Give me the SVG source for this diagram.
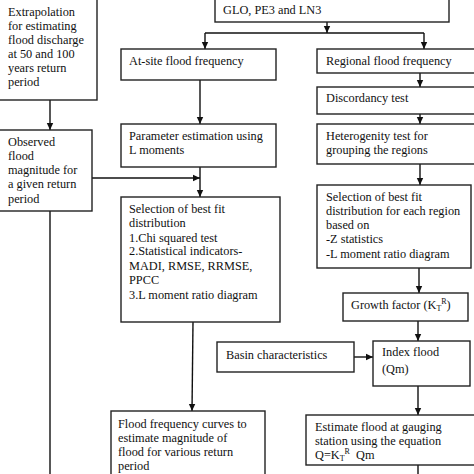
<svg xmlns="http://www.w3.org/2000/svg" width="474" height="474" viewBox="0 0 474 474">
<defs>
<marker id="ah" markerWidth="8" markerHeight="8" refX="7" refY="4" orient="auto" markerUnits="userSpaceOnUse">
<path d="M0,0.8 L7,4 L0,7.2 Z" fill="#111"/>
</marker>
<style>
.b{fill:#fff;stroke:#222;stroke-width:1.4}
.t{font-family:"Liberation Serif","Times New Roman",serif;font-size:12.3px;fill:#111}
.c{fill:none;stroke:#111;stroke-width:1.4}
.a{fill:none;stroke:#111;stroke-width:1.4;marker-end:url(#ah)}
.s{font-size:8px}
</style>
</defs>
<rect width="474" height="474" fill="#fff"/>

<g id="connectors">
<line class="a" x1="327" y1="22" x2="327" y2="33"/>
<line class="c" x1="205" y1="33" x2="424" y2="33"/>
<line class="a" x1="205" y1="33" x2="205" y2="49"/>
<line class="a" x1="424" y1="33" x2="424" y2="49"/>
<line class="a" x1="50" y1="100" x2="50" y2="130"/>
<line class="a" x1="200" y1="80" x2="200" y2="124"/>
<line class="a" x1="200" y1="167" x2="200" y2="197"/>
<line class="a" x1="92" y1="178" x2="200" y2="178"/>
<line class="c" x1="50" y1="211" x2="50" y2="474"/>
<line class="a" x1="193" y1="322" x2="192" y2="411"/>
<line class="a" x1="420" y1="73" x2="420" y2="87"/>
<line class="a" x1="420" y1="114" x2="420" y2="124"/>
<line class="a" x1="420" y1="164" x2="420" y2="185"/>
<line class="a" x1="419" y1="268" x2="419" y2="293"/>
<line class="a" x1="418" y1="321" x2="418" y2="341"/>
<line class="a" x1="354" y1="357" x2="373" y2="357"/>
<line class="a" x1="418" y1="386" x2="418" y2="415"/>
<line class="c" x1="418" y1="465" x2="418" y2="474"/>
</g>

<g id="dist">
<rect class="b" x="215" y="-10" width="234" height="32"/>
<text class="t" x="223" y="14">GLO, PE3 and LN3</text>
</g>

<g id="extrapolation">
<rect class="b" x="-5" y="-10" width="102" height="110"/>
<text class="t" x="8" y="16">Extrapolation</text>
<text class="t" x="8" y="30">for estimating</text>
<text class="t" x="8" y="44">flood discharge</text>
<text class="t" x="8" y="58">at 50 and 100</text>
<text class="t" x="8" y="72">years return</text>
<text class="t" x="8" y="86">period</text>
</g>

<g id="observed">
<rect class="b" x="-5" y="130" width="97" height="81"/>
<text class="t" x="8" y="146">Observed</text>
<text class="t" x="8" y="160">flood</text>
<text class="t" x="8" y="174">magnitude for</text>
<text class="t" x="8" y="188">a given return</text>
<text class="t" x="8" y="203">period</text>
</g>

<g id="atsite">
<rect class="b" x="121" y="49" width="155" height="31"/>
<text class="t" x="129" y="65">At-site flood frequency</text>
</g>

<g id="parameter">
<rect class="b" x="121" y="124" width="155" height="43"/>
<text class="t" x="129" y="140">Parameter estimation using</text>
<text class="t" x="129" y="154">L moments</text>
</g>

<g id="selection-atsite">
<rect class="b" x="121" y="197" width="159" height="125"/>
<text class="t" x="129" y="213">Selection of best fit</text>
<text class="t" x="129" y="227">distribution</text>
<text class="t" x="129" y="242">1.Chi squared test</text>
<text class="t" x="129" y="255">2.Statistical indicators-</text>
<text class="t" x="129" y="270">MADI, RMSE, RRMSE,</text>
<text class="t" x="129" y="284">PPCC</text>
<text class="t" x="129" y="299">3.L moment ratio diagram</text>
</g>

<g id="curves">
<rect class="b" x="111" y="411" width="154" height="70"/>
<text class="t" x="118" y="428">Flood frequency curves to</text>
<text class="t" x="118" y="442">estimate magnitude of</text>
<text class="t" x="118" y="456">flood for various return</text>
<text class="t" x="118" y="470">period</text>
</g>

<g id="regional">
<rect class="b" x="317" y="49" width="162" height="24"/>
<text class="t" x="326" y="65">Regional flood frequency</text>
</g>

<g id="discordancy">
<rect class="b" x="317" y="87" width="162" height="27"/>
<text class="t" x="326" y="102">Discordancy test</text>
</g>

<g id="heterogenity">
<rect class="b" x="317" y="124" width="162" height="40"/>
<text class="t" x="326" y="140">Heterogenity test for</text>
<text class="t" x="326" y="154">grouping the regions</text>
</g>

<g id="selection-regional">
<rect class="b" x="317" y="185" width="154" height="83"/>
<text class="t" x="326" y="201">Selection of best fit</text>
<text class="t" x="326" y="215">distribution for each region</text>
<text class="t" x="326" y="229">based on</text>
<text class="t" x="326" y="243">-Z statistics</text>
<text class="t" x="326" y="258">-L moment ratio diagram</text>
</g>

<g id="growth">
<rect class="b" x="343" y="293" width="125" height="28"/>
<text class="t" x="351" y="309">Growth factor (K<tspan class="s" dy="2">T</tspan><tspan class="s" dy="-7">R</tspan><tspan dy="5">)</tspan></text>
</g>

<g id="basin">
<rect class="b" x="217" y="342" width="137" height="30"/>
<text class="t" x="226" y="359">Basin characteristics</text>
</g>

<g id="index">
<rect class="b" x="373" y="341" width="97" height="45"/>
<text class="t" x="382" y="356">Index flood</text>
<text class="t" x="382" y="373">(Qm)</text>
</g>

<g id="estimate">
<rect class="b" x="306" y="415" width="175" height="50"/>
<text class="t" x="315" y="431">Estimate flood at gauging</text>
<text class="t" x="315" y="445">station using the equation</text>
<text class="t" x="315" y="459">Q=K<tspan class="s" dy="2">T</tspan><tspan class="s" dy="-7">R</tspan><tspan dy="5">&#160; Qm</tspan></text>
</g>
</svg>
